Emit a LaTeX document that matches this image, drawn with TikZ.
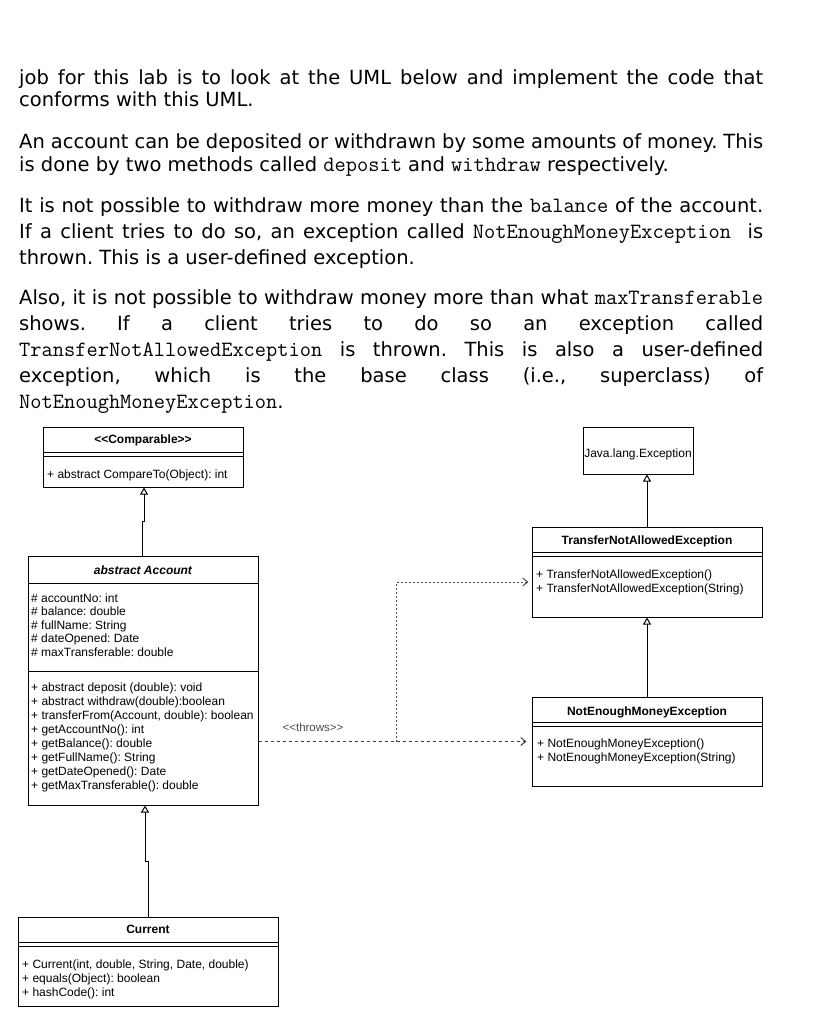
\documentclass[tikz,border=0pt]{standalone}
\usepackage{fontspec}
\setmainfont{DejaVu Sans}
\newfontfamily\umlfont{Liberation Sans}
\usetikzlibrary{arrows.meta}
\frenchspacing
\newcommand{\code}[1]{{\ttfamily\fontsize{21.8}{24}\selectfont #1}}
\newcommand{\jline}[1]{\makebox[744pt][s]{#1}}

\begin{document}
\begin{tikzpicture}[
    x=1pt, y=-1pt,
    para/.style={anchor=base west, inner sep=0pt, font=\fontsize{19.5}{24}\selectfont},
    umlbox/.style={draw, line width=1pt, fill=white, inner sep=0pt},
    divider/.style={line width=1pt},
    member/.style={anchor=base west, inner sep=0pt, font=\umlfont\fontsize{12}{14}\selectfont},
    clsname/.style={anchor=base, inner sep=0pt, font=\umlfont\bfseries\fontsize{12}{14}\selectfont},
    inherit/.style={-{Triangle[open, length=7pt, width=8pt]}, line width=1pt},
    throws/.style={-{Straight Barb[length=5pt, width=8pt]}, line width=1pt, black!75, dash pattern=on 3pt off 3pt, shorten >=5pt},
    dotline/.style={line width=1pt, black!70, dash pattern=on 2pt off 2pt}
]
\fill[white] (0,0) rectangle (831,1024);
\useasboundingbox (0,0) rectangle (831,1024);

% lab text
\node[para] (l1) at (19,85) {\jline{job for this lab is to look at the UML below and implement the code that}};
\node[para] (l2) at (19,107) {conforms with this UML.};
\node[para] (l3) at (19,149) {\jline{An account can be deposited or withdrawn by some amounts of money. This}};
\node[para] (l4) at (19,172) {is done by two methods called \code{deposit} and \code{withdraw} respectively.};
\node[para] (l5) at (19,213) {\jline{It is not possible to withdraw more money than the \code{balance} of the account.}};
\node[para] (l6) at (19,239) {\jline{If a client tries to do so, an exception called \code{NotEnoughMoneyException}\ \ is}};
\node[para] (l7) at (19,264) {thrown. This is a user-defined exception.};
\node[para] (l8) at (19,304) {\jline{Also, it is not possible to withdraw money more than what \code{maxTransferable}}};
\node[para] (l9) at (19,330) {\jline{shows. If a client tries to do so an exception called}};
\node[para] (l10) at (19,356) {\jline{\code{TransferNotAllowedException} is thrown. This is also a user-defined}};
\node[para] (l11) at (19,382) {\jline{exception, which is the base class (i.e., superclass) of}};
\node[para] (l12) at (19,408) {\code{NotEnoughMoneyException}.};

% class boxes
\node[umlbox, minimum width=200pt, minimum height=60pt] (cmp) at (143,457) {};
\node[umlbox, minimum width=110pt, minimum height=47pt] (jle) at (638,450.5) {};
\node[umlbox, minimum width=230pt, minimum height=90pt] (tna) at (647,572) {};
\node[umlbox, minimum width=230pt, minimum height=89pt] (neme) at (647,741.5) {};
\node[umlbox, minimum width=230pt, minimum height=249pt] (acc) at (143,680.5) {};
\node[umlbox, minimum width=260pt, minimum height=89pt] (cur) at (148,961.5) {};

% Comparable
\node[clsname] (cmpname) at (143,443) {<\kern0pt<Comparable>\kern0pt>};
\draw[divider] (cmp.west |- 0,452) -- (cmp.east |- 0,452);
\draw[divider] (cmp.west |- 0,456) -- (cmp.east |- 0,456);
\node[member] (cmpm) at (47,478) {+ abstract CompareTo(Object): int};

% Java.lang.Exception
\node[anchor=base, inner sep=0pt, font=\umlfont\fontsize{12}{14}\selectfont] (jlename) at (638,457) {Java.lang.Exception};

% TransferNotAllowedException
\node[clsname] (tnaname) at (647,544) {TransferNotAllowedException};
\draw[divider] (tna.west |- 0,552) -- (tna.east |- 0,552);
\draw[divider] (tna.west |- 0,556) -- (tna.east |- 0,556);
\foreach \m [count=\i from 0] in {{+ TransferNotAllowedException()}, {+ TransferNotAllowedException(String)}}
  \node[member] (tnam\i) at (536,{578+14*\i}) {\m};

% NotEnoughMoneyException
\node[clsname] (nemename) at (647,715) {NotEnoughMoneyException};
\draw[divider] (neme.west |- 0,722) -- (neme.east |- 0,722);
\draw[divider] (neme.west |- 0,726) -- (neme.east |- 0,726);
\foreach \m [count=\i from 0] in {{+ NotEnoughMoneyException()}, {+ NotEnoughMoneyException(String)}}
  \node[member] (nemem\i) at (537,{747+14*\i}) {\m};

% Account
\node[clsname, font=\umlfont\bfseries\itshape\fontsize{12}{14}\selectfont] (accname) at (143,574) {abstract Account};
\draw[divider] (acc.west |- 0,583) -- (acc.east |- 0,583);
\foreach \m [count=\i from 0] in {{\# accountNo: int}, {\# balance: double}, {\# fullName: String},
    {\# dateOpened: Date}, {\# maxTransferable: double}}
  \node[member] (accf\i) at (31,{602+13.5*\i}) {\m};
\draw[divider] (acc.west |- 0,671) -- (acc.east |- 0,671);
\foreach \m [count=\i from 0] in {{+ abstract deposit (double): void}, {+ abstract withdraw(double):boolean},
    {+ transferFrom(Account, double): boolean}, {+ getAccountNo(): int}, {+ getBalance(): double},
    {+ getFullName(): String}, {+ getDateOpened(): Date}, {+ getMaxTransferable(): double}}
  \node[member] (accm\i) at (31,{691+14*\i}) {\m};

% Current
\node[clsname] (curname) at (148,933) {Current};
\draw[divider] (cur.west |- 0,942) -- (cur.east |- 0,942);
\draw[divider] (cur.west |- 0,946) -- (cur.east |- 0,946);
\foreach \m [count=\i from 0] in {{+ Current(int, double, String, Date, double)}, {+ equals(Object): boolean}, {+ hashCode(): int}}
  \node[member] (curm\i) at (22,{968+14*\i}) {\m};

% generalisation
\draw[inherit] ([xshift=-1pt]acc.north) |- ++(2,-34) -- ([xshift=1pt]cmp.south);
\draw[inherit] (cur.north) |- ++(-3,-55) -- ([xshift=2pt]acc.south);
\draw[inherit] (tna.north) -- (tna.north |- jle.south);
\draw[inherit] (neme.north) -- (tna.south);

% throws
\coordinate (fork) at (396,741.5);
\draw[throws] (acc.east |- neme.west) -- (neme.west);
\draw[dotline, -{Straight Barb[length=5pt, width=8pt]}, shorten >=3pt] (fork) |- ([yshift=-10pt]tna.west);
\node[font=\umlfont\fontsize{11.5}{13}\selectfont, text=black!70, inner sep=0pt] (thrlbl) at (313,727) {<\kern0pt<throws>\kern0pt>};
\end{tikzpicture}
\end{document}
